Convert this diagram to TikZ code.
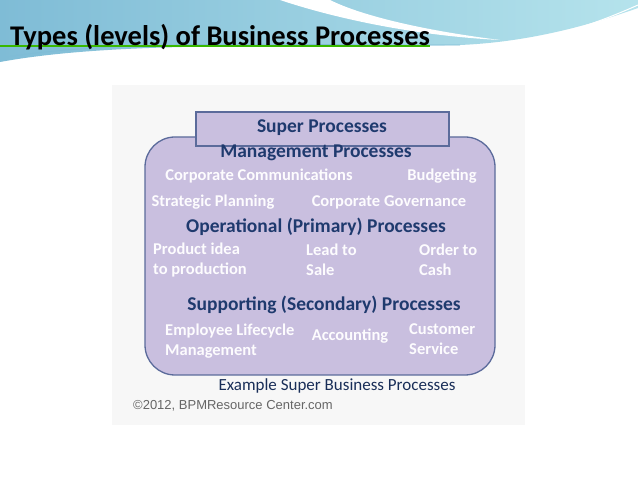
\documentclass[tikz,border=0pt]{standalone}
\usepackage{fontspec}
\setmainfont{Carlito}
\newfontfamily\arialf{Liberation Sans}
\definecolor{lav}{HTML}{C9BFDF}
\definecolor{edge}{HTML}{5B6B9B}
\definecolor{dblue}{HTML}{1F3A6E}
\definecolor{sky}{HTML}{7FBCD6}
\definecolor{sky2}{HTML}{B5E3EC}
\tikzset{
  head/.style={font=\bfseries\fontsize{19.5}{22}\selectfont, text=dblue},
  item/.style={font=\bfseries\fontsize{16.5}{20}\selectfont, text=white!96!lav, align=left, inner sep=0},
  box/.style={draw=edge, line width=1.3pt, fill=lav}
}
\begin{document}
\begin{tikzpicture}[x=1pt,y=-1pt]
\useasboundingbox (0,0) rectangle (638,478);
\fill[white] (0,0) rectangle (638,478);
% banner
\shade[left color=sky, right color=sky2] (0,0) -- (638,0) -- (638,8) .. controls (590,25) and (530,42) .. (460,45) .. controls (300,48) and (120,40) .. (0,62) -- cycle;
\fill[white] (280,0) .. controls (340,20) and (420,36) .. (500,40) .. controls (420,30) and (360,15) .. (330,0) -- cycle;
\draw[white, line width=1pt] (0,70) .. controls (120,45) and (300,52) .. (470,48) .. controls (540,45) and (600,22) .. (638,5);
\draw[sky, line width=0.8pt] (0,58) .. controls (120,38) and (300,46) .. (460,45);
\draw[green!60!black!70!lime, line width=2pt] (0,46) -- (430,46);
\node[anchor=west, font=\bfseries\fontsize{28.5}{30}\selectfont, inner sep=0] (title) at (10,37) {Types (levels) of Business Processes};
% panel
\fill[gray!6] (112,85) rectangle (525,425);
\draw[box, rounded corners=30pt] (145,137) rectangle (495,375);
\node[box, minimum width=253pt, minimum height=34pt, inner sep=0] (sp) at (322.5,129) {};
\node[head] (t1) at (322,128) {Super Processes};
\node[head] (t2) at (316,153) {Management Processes};
\node[item] (a1) at (259,176) {Corporate Communications};
\node[item] (a2) at (442,176) {Budgeting};
\node[item] (a3) at (213,202) {Strategic Planning};
\node[item] (a4) at (389,202) {Corporate Governance};
\node[head] (t3) at (316,227) {Operational (Primary) Processes};
\node[item, anchor=west] (b1) at (153,260) {Product idea\\to production};
\node[item, anchor=west] (b2) at (306,260) {Lead to\\Sale};
\node[item, anchor=west] (b3) at (419,260) {Order to\\Cash};
\node[head] (t4) at (324,305) {Supporting (Secondary) Processes};
\node[item, anchor=west] (c1) at (165,341) {Employee Lifecycle\\Management};
\node[item] (c2) at (350,336) {Accounting};
\node[item, anchor=west] (c3) at (409,339) {Customer\\Service};
\node[font=\fontsize{17}{20}\selectfont, text=dblue!80!black] (cap) at (337,386) {Example Super Business Processes};
\node[font=\arialf\fontsize{13}{15}\selectfont, text=gray!80!black, anchor=west, inner sep=0] (copy) at (133,406) {©2012, BPMResource Center.com};
\end{tikzpicture}
\end{document}
